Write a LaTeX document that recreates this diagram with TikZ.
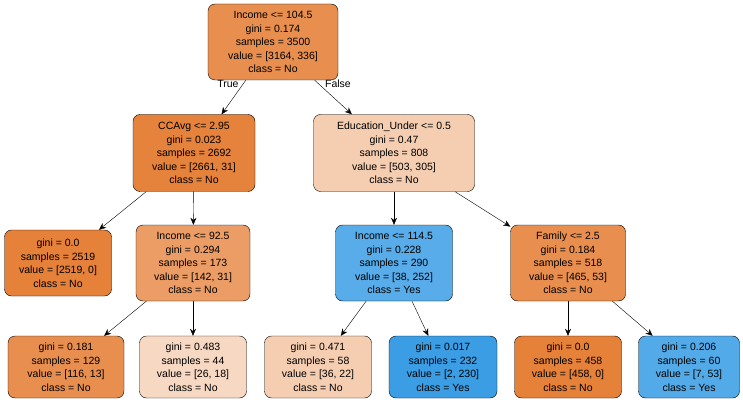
\documentclass[tikz,border=0pt]{standalone}
\usepackage{fontspec}
\setmainfont{Liberation Sans}
\usetikzlibrary{arrows.meta}
\definecolor{orng}{HTML}{E58139}
\definecolor{blu}{HTML}{399DE5}
\begin{document}
\begin{tikzpicture}[x=1pt,y=-1pt,
  box/.style={draw,rounded corners=7pt,align=center,font=\fontsize{10.5}{13.5}\selectfont,inner sep=2pt},
  e/.style={-{Stealth[length=7pt,width=6pt]},thin}]
\useasboundingbox (0,0) rectangle (743,403);
\node[box,fill=orng!89!white,minimum width=130,minimum height=76] (r) at (273,42) {Income <= 104.5\\gini = 0.174\\samples = 3500\\value = [3164, 336]\\class = No};
\node[box,fill=orng!99!white,minimum width=122,minimum height=77] (a) at (194,153) {CCAvg <= 2.95\\gini = 0.023\\samples = 2692\\value = [2661, 31]\\class = No};
\node[box,fill=orng!39!white,minimum width=161,minimum height=77] (b) at (394,153) {Education\_Under <= 0.5\\gini = 0.47\\samples = 808\\value = [503, 305]\\class = No};
\node[box,fill=orng,minimum width=107,minimum height=66] (c) at (58,263) {gini = 0.0\\samples = 2519\\value = [2519, 0]\\class = No};
\node[box,fill=orng!78!white,minimum width=114,minimum height=76] (d) at (193,263) {Income <= 92.5\\gini = 0.294\\samples = 173\\value = [142, 31]\\class = No};
\node[box,fill=blu!85!white,minimum width=117,minimum height=76] (f) at (394,263) {Income <= 114.5\\gini = 0.228\\samples = 290\\value = [38, 252]\\class = Yes};
\node[box,fill=orng!89!white,minimum width=115,minimum height=76] (g) at (568,263) {Family <= 2.5\\gini = 0.184\\samples = 518\\value = [465, 53]\\class = No};
\node[box,fill=orng!89!white,minimum width=116,minimum height=62] (l1) at (66,367) {gini = 0.181\\samples = 129\\value = [116, 13]\\class = No};
\node[box,fill=orng!31!white,minimum width=107,minimum height=62] (l2) at (193,367) {gini = 0.483\\samples = 44\\value = [26, 18]\\class = No};
\node[box,fill=orng!39!white,minimum width=107,minimum height=62] (l3) at (318,367) {gini = 0.471\\samples = 58\\value = [36, 22]\\class = No};
\node[box,fill=blu!99!white,minimum width=108,minimum height=62] (l4) at (443,367) {gini = 0.017\\samples = 232\\value = [2, 230]\\class = Yes};
\node[box,fill=orng,minimum width=107,minimum height=62] (l5) at (568,367) {gini = 0.0\\samples = 458\\value = [458, 0]\\class = No};
\node[box,fill=blu!87!white,minimum width=101,minimum height=62] (l6) at (689,367) {gini = 0.206\\samples = 60\\value = [7, 53]\\class = Yes};
\draw[e] (r) -- node[above left,font=\fontsize{10.5}{13}\selectfont,pos=0.25,inner sep=1pt] {True} (a);
\draw[e] (r) -- node[above right,font=\fontsize{10.5}{13}\selectfont,pos=0.25,inner sep=1pt] {False} (b);
\draw[e] (a) -- (c); \draw[e] (a) -- (d);
\draw[e] (b) -- (f); \draw[e] (b) -- (g);
\draw[e] (d) -- (l1); \draw[e] (d) -- (l2);
\draw[e] (f) -- (l3); \draw[e] (f) -- (l4);
\draw[e] (g) -- (l5); \draw[e] (g) -- (l6);
\end{tikzpicture}
\end{document}
